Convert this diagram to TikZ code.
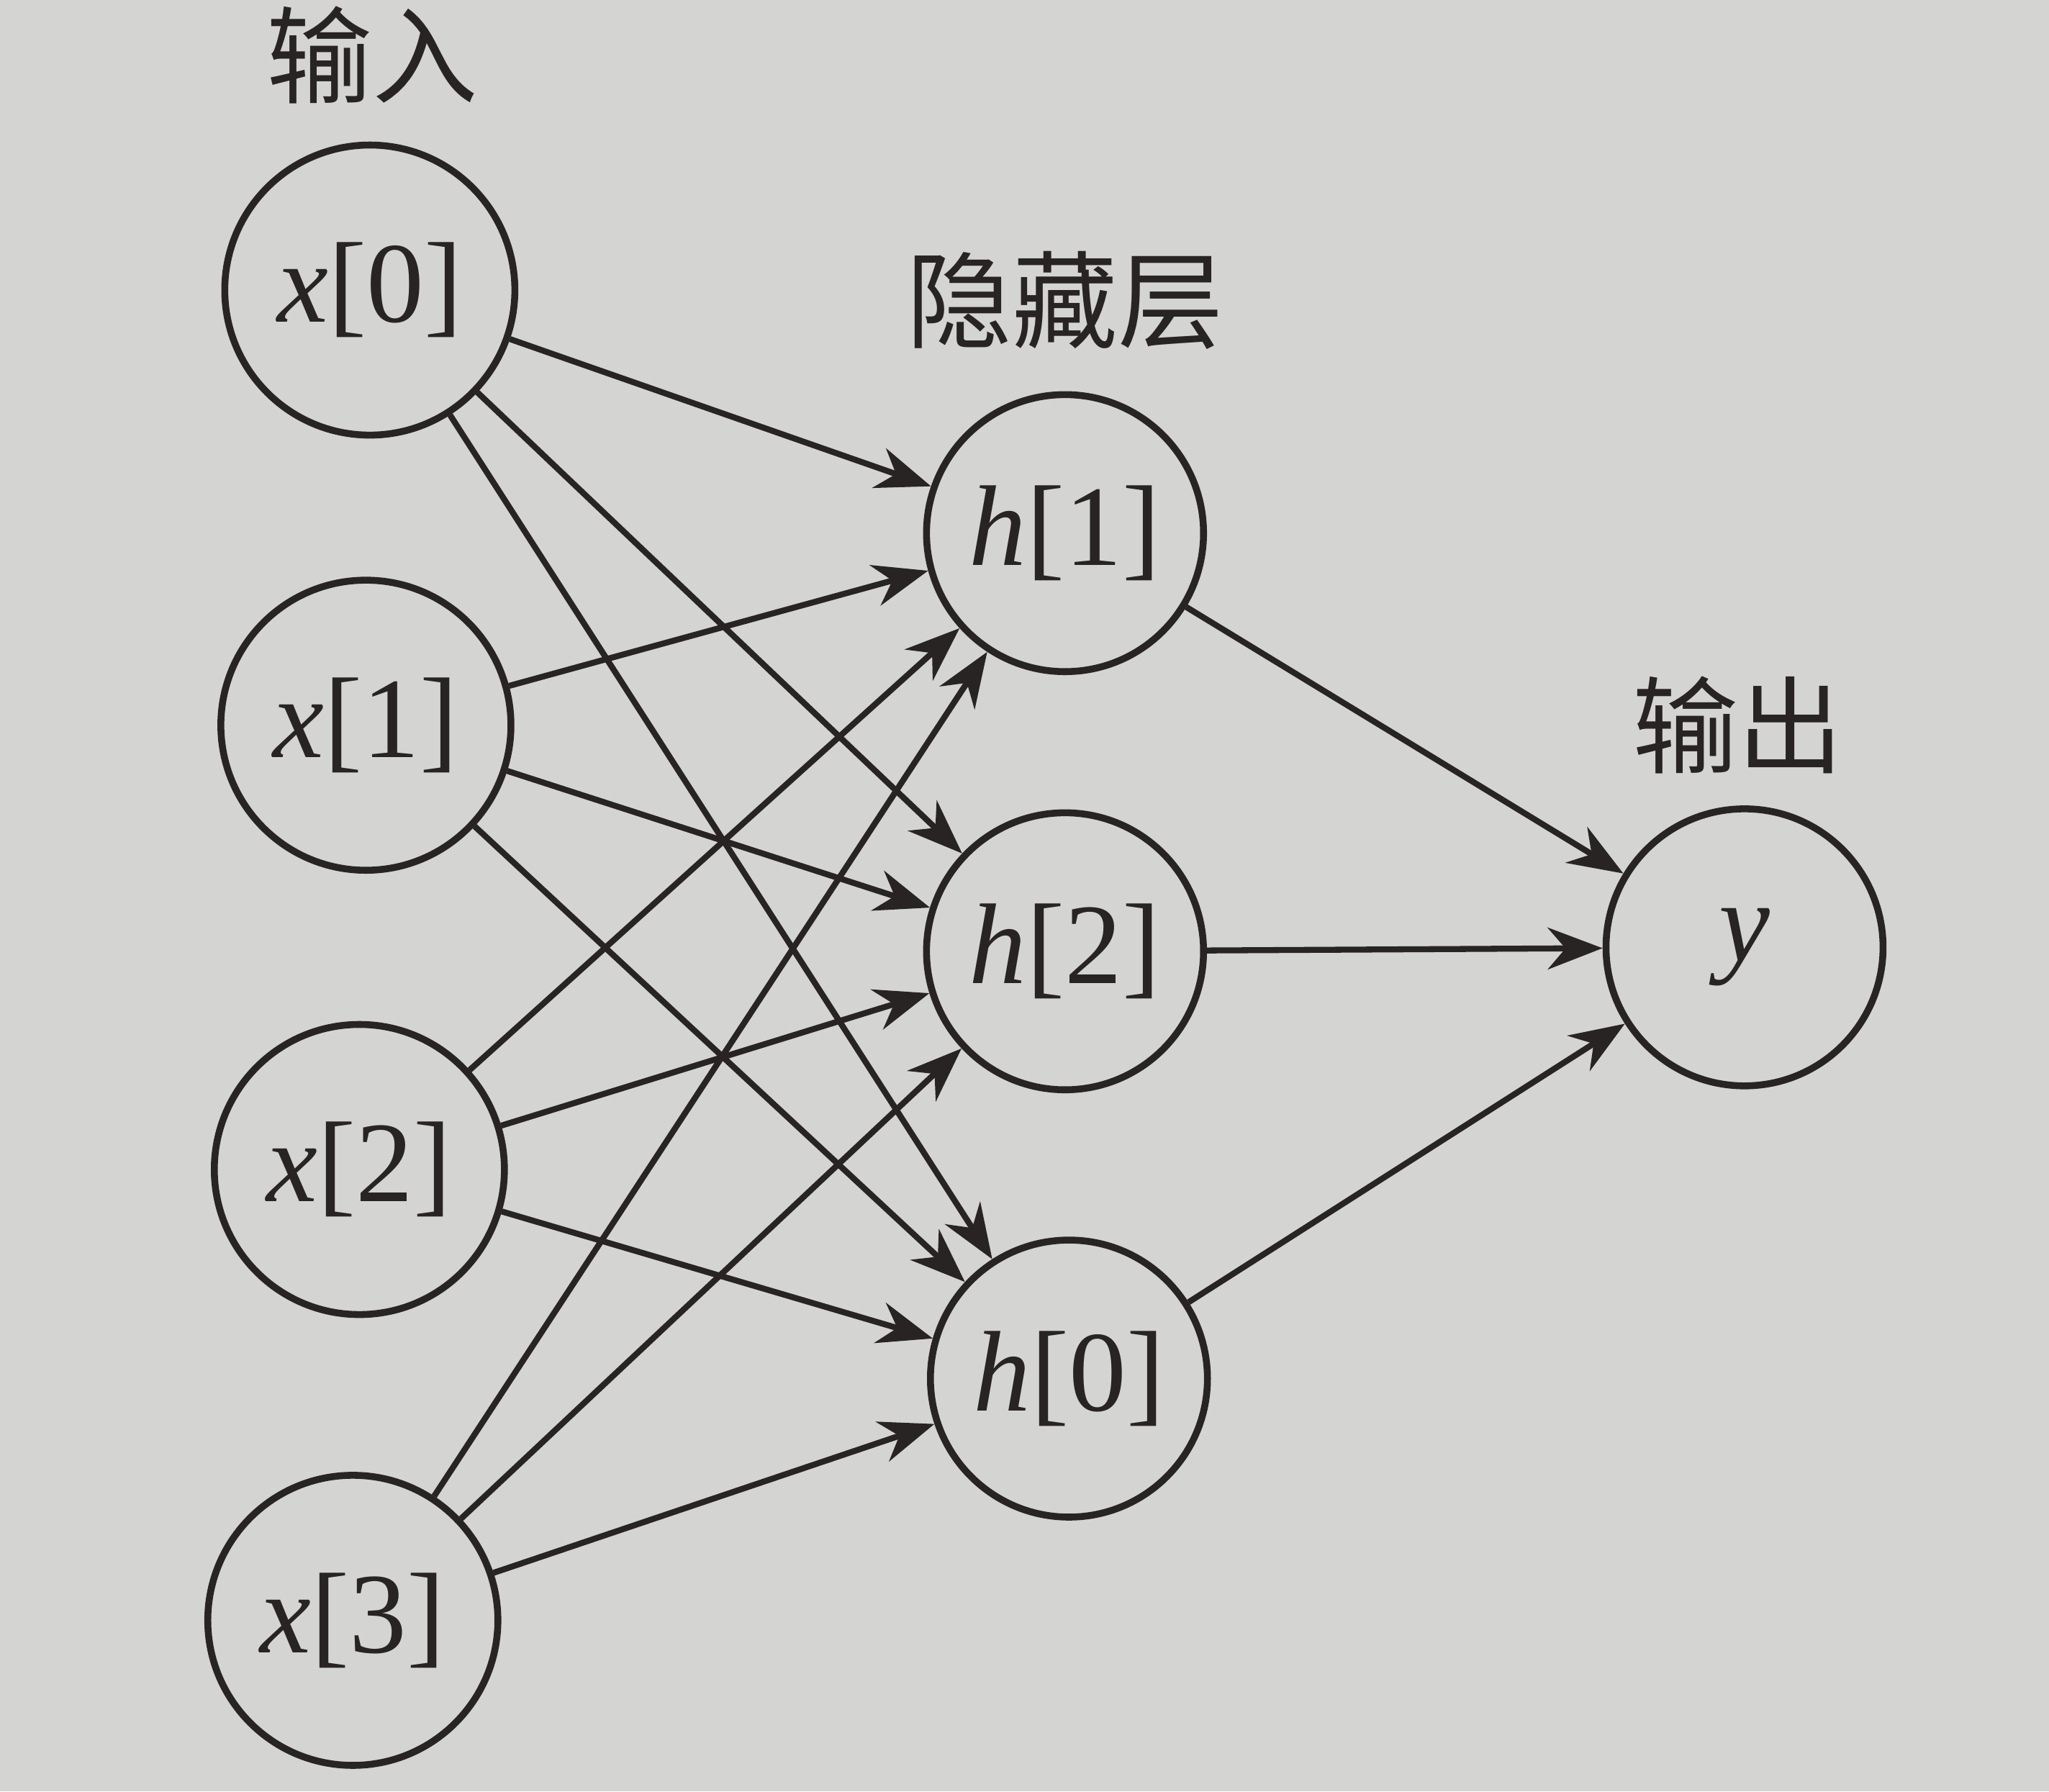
\documentclass[tikz,border=0pt]{standalone}
\usepackage{fontspec}
\usepackage{tikz}
\usetikzlibrary{arrows.meta}
\setmainfont{Liberation Serif}
\newfontfamily\cjk{Noto Sans CJK SC}
\definecolor{paper}{RGB}{212,212,210}
\definecolor{ink}{RGB}{40,36,36}
\tikzset{
  neuron/.style={circle, draw=ink, line width=1.5pt, minimum size=2.12cm, inner sep=0pt,
    font=\fontsize{25}{30}\selectfont, text=ink},
  layername/.style={font=\cjk\fontsize{23}{27}\selectfont, text=ink},
  link/.style={draw=ink, line width=1.3pt, -{Stealth[length=0.42cm,width=0.32cm]}}
}
\begin{document}
\begin{tikzpicture}
\fill[paper] (0,0) rectangle (15.68,13.71);
\useasboundingbox (0,0) rectangle (15.68,13.71);

\node[neuron, minimum size=2.22cm] (x0) at (2.83,11.49) {\textit{x}[0]};
\node[neuron, minimum size=2.22cm] (x1) at (2.80,8.16) {\textit{x}[1]};
\node[neuron, minimum size=2.22cm] (x2) at (2.75,4.76) {\textit{x}[2]};
\node[neuron, minimum size=2.22cm] (x3) at (2.70,1.31) {\textit{x}[3]};

\node[neuron] (h1) at (8.15,9.63) {\textit{h}[1]};
\node[neuron] (h2) at (8.15,6.43) {\textit{h}[2]};
\node[neuron] (h0) at (8.18,3.16) {\textit{h}[0]};

\node[neuron] (y) at (13.35,6.46) {\textit{y}};

\node[layername] (lin) at (2.85,13.29) {输入};
\node[layername] (lhid) at (8.15,11.41) {隐藏层};
\node[layername] (lout) at (13.30,8.16) {输出};

\foreach \i in {0,1,2,3}
  \foreach \j in {1,2,0}
    \draw[link] (x\i) -- (h\j);

\foreach \j in {1,2,0}
  \draw[link] (h\j) -- (y);
\end{tikzpicture}
\end{document}
